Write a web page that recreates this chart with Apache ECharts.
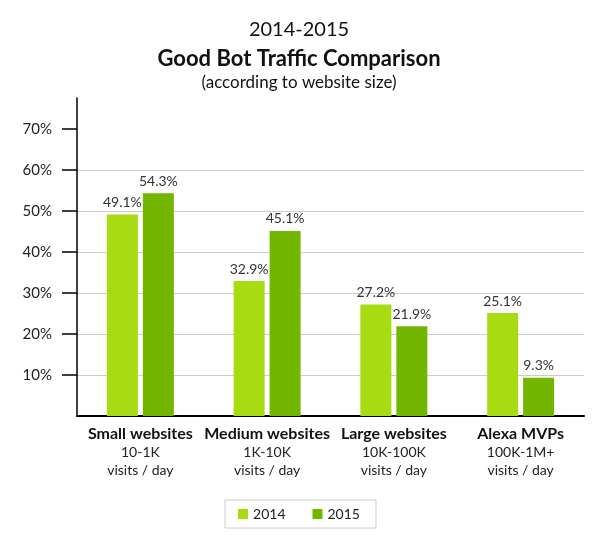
<!DOCTYPE html>
<html>
<head>
<meta charset="utf-8">
<script src="https://cdn.jsdelivr.net/npm/echarts@6/dist/echarts.min.js"></script>
<style>
  html, body { margin: 0; padding: 0; background: #fff; }
  #chart { width: 598px; height: 545px; }
</style>
</head>
<body>
<div id="chart"></div>
<script>
var sizeNames = ['Small websites', 'Medium websites', 'Large websites', 'Alexa MVPs'];
var sizeRanges = ['10-1K', '1K-10K', '10K-100K', '100K-1M+'];
var rangeUnit = 'visits / day';
var years = ['2014', '2015'];
var values2014 = [49.1, 32.9, 27.2, 25.1];
var values2015 = [54.3, 45.1, 21.9, 9.3];
var yTicks = [10, 20, 30, 40, 50, 60, 70];

var fontName = 'Lato';
var botChart = echarts.init(document.getElementById('chart'));

function barLabel() {
    return {
        show: true,
        position: 'top',
        distance: 5,
        formatter: '{c}%',
        fontFamily: fontName,
        fontSize: 14,
        color: '#333'
    };
}

var option = {
    animation: false,
    textStyle: { fontFamily: fontName },
    color: ['#a8dc12', '#72b600'],
    title: [
        {
            text: '2014-2015',
            left: 'center', top: 18, padding: 0,
            textStyle: { fontFamily: fontName, fontSize: 20, fontWeight: 'normal', color: '#111', lineHeight: 24 }
        },
        {
            text: 'Good Bot Traffic Comparison',
            left: 'center', top: 46, padding: 0,
            textStyle: { fontFamily: fontName, fontSize: 22, fontWeight: 'bold', color: '#111', lineHeight: 26 }
        },
        {
            text: '(according to website size)',
            left: 'center', top: 73, padding: 0,
            textStyle: { fontFamily: fontName, fontSize: 17, fontWeight: 'normal', color: '#111', lineHeight: 20 }
        }
    ],
    legend: {
        data: years,
        top: 500,
        left: 'center',
        icon: 'rect',
        itemWidth: 10,
        itemHeight: 10,
        itemGap: 27,
        padding: [7, 16, 7, 13],
        borderColor: '#ccc',
        borderWidth: 1,
        textStyle: { fontFamily: fontName, fontSize: 14, color: '#222' }
    },
    grid: { left: 77, right: 14, top: 98, bottom: 129, containLabel: false },
    xAxis: {
        type: 'category',
        data: sizeNames,
        axisLine: { show: true, lineStyle: { color: '#000', width: 2 } },
        axisTick: { show: false },
        axisLabel: {
            margin: 9,
            interval: 0,
            formatter: function (value, index) {
                return '{b|' + value + '}\n{n|' + sizeRanges[index] + '}\n{n|' + rangeUnit + '}';
            },
            rich: {
                b: { fontFamily: fontName, fontSize: 16, fontWeight: 'bold', color: '#111', lineHeight: 18 },
                n: { fontFamily: fontName, fontSize: 14, color: '#222', lineHeight: 18 }
            }
        }
    },
    yAxis: {
        type: 'value',
        min: 0,
        max: 77.5,
        interval: 10,
        axisLine: { show: true, lineStyle: { color: '#000', width: 1.5 } },
        axisTick: { show: true, length: 15, customValues: yTicks, lineStyle: { color: '#000', width: 1.5 } },
        axisLabel: {
            customValues: yTicks,
            margin: 25,
            formatter: '{value}%',
            fontFamily: fontName,
            fontSize: 15,
            color: '#222'
        },
        splitLine: { show: true, showMaxLine: false, lineStyle: { color: '#ccc', width: 1 } }
    },
    series: [
        {
            name: years[0],
            type: 'bar',
            data: values2014,
            barWidth: 31,
            barGap: '16%',
            label: barLabel()
        },
        {
            name: years[1],
            type: 'bar',
            data: values2015,
            barWidth: 31,
            barGap: '16%',
            label: barLabel()
        }
    ]
};

botChart.setOption(option);
</script>
</body>
</html>
